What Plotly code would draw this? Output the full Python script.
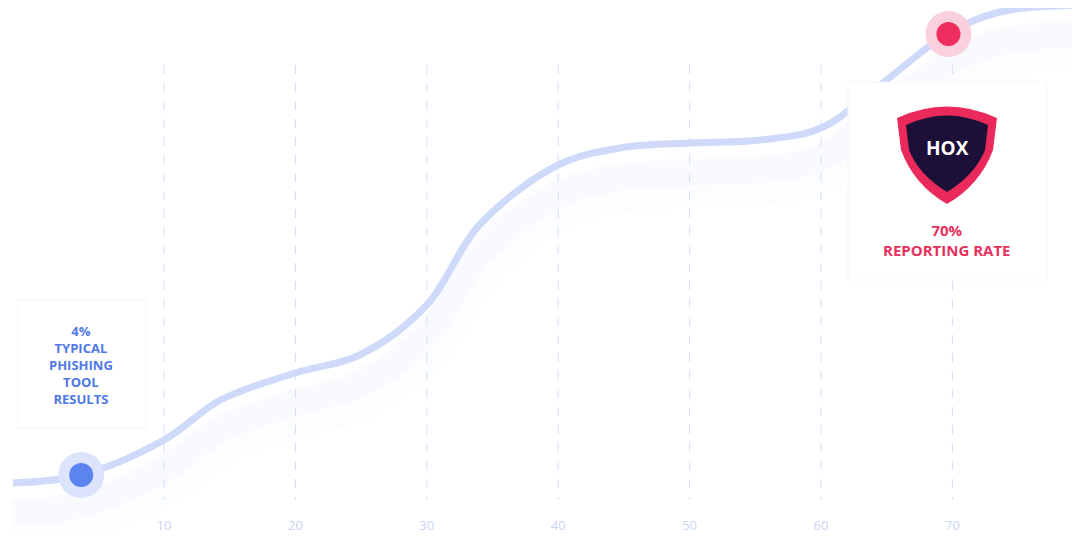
import plotly.graph_objects as go

W, H = 1080, 544
OFF = 8  # page body margin in the browser
FW, FH = W - 2 * OFF, H - 2 * OFF

# curve samples (x in chart units, y in pixels from top)
curve_x = [-1.5, 3.7, 10.0, 14.3, 20.0, 24.9, 30.0, 34.0, 40.0, 44.7, 50.0, 55.4, 60.0, 64.5, 69.7, 73.6, 79.5]
curve_y = [483, 475, 440, 400, 373, 355, 305, 225, 165, 148, 143, 140, 128, 85, 33, 12, 5]
ticks = [10, 20, 30, 40, 50, 60, 70]
low_point = (3.7, 475)
high_point = (69.7, 34)
low_label = "<b>4%<br>TYPICAL<br>PHISHING<br>TOOL<br>RESULTS</b>"
high_label = "<b>70%<br>REPORTING RATE</b>"

fig = go.Figure()

# soft shadow under the curve (two faint passes)
for w, a, dy in [(50, 0.05, 40), (26, 0.06, 30)]:
    fig.add_trace(go.Scatter(x=curve_x, y=[v + dy for v in curve_y], mode='lines',
                             line=dict(color=f'rgba(200,208,245,{a})', width=w, shape='spline'),
                             hoverinfo='skip'))
# vertical dashed guides
for t in ticks:
    fig.add_trace(go.Scatter(x=[t, t], y=[65, 500], mode='lines',
                             line=dict(color='#d3ddf8', width=1, dash='dash'), hoverinfo='skip'))
# main curve
fig.add_trace(go.Scatter(x=curve_x, y=curve_y, mode='lines',
                         line=dict(color='#cfdafb', width=7, shape='spline'), hoverinfo='skip'))


def px(x):
    return (x - OFF) / FW


def py(y):
    return 1 - (y - OFF) / FH


# cards
for x0, y0, x1, y1 in [(18, 300, 146, 428), (848, 82, 1047, 280)]:
    fig.add_shape(type='rect', xref='paper', yref='paper', x0=px(x0), x1=px(x1), y0=py(y1), y1=py(y0),
                  fillcolor='white', line=dict(color='#f3f5fc', width=1), layer='above')

# markers
fig.add_trace(go.Scatter(x=[low_point[0]], y=[low_point[1]], mode='markers',
                         marker=dict(size=46, color='#dbe4fc'), hoverinfo='skip'))
fig.add_trace(go.Scatter(x=[low_point[0]], y=[low_point[1]], mode='markers',
                         marker=dict(size=24, color='#5b84f0'), hoverinfo='skip'))
fig.add_trace(go.Scatter(x=[high_point[0]], y=[high_point[1]], mode='markers',
                         marker=dict(size=46, color='#f9d0dc'), hoverinfo='skip'))
fig.add_trace(go.Scatter(x=[high_point[0]], y=[high_point[1]], mode='markers',
                         marker=dict(size=24, color='#ec2d5e'), hoverinfo='skip'))

# shield
outer = (f"M {px(897)} {py(118)} Q {px(947)} {py(95)} {px(997)} {py(118)} L {px(993)} {py(150)} "
         f"Q {px(980)} {py(185)} {px(947)} {py(204)} Q {px(914)} {py(185)} {px(901)} {py(150)} Z")
inner = (f"M {px(906)} {py(125)} Q {px(947)} {py(106)} {px(988)} {py(125)} L {px(985)} {py(150)} "
         f"Q {px(975)} {py(175)} {px(947)} {py(192)} Q {px(919)} {py(175)} {px(909)} {py(150)} Z")
fig.add_shape(type='path', xref='paper', yref='paper', path=outer, fillcolor='#ea2a5a', line_width=0, layer='above')
fig.add_shape(type='path', xref='paper', yref='paper', path=inner, fillcolor='#1c1038', line_width=0, layer='above')

fig.add_annotation(xref='paper', yref='paper', x=px(947), y=py(148), xanchor='center', yanchor='middle',
                   text='<b>HOX</b>', showarrow=False, font=dict(family='Open Sans', size=19, color='white'))
fig.add_annotation(xref='paper', yref='paper', x=px(947), y=py(240), xanchor='center', yanchor='middle',
                   text=high_label, showarrow=False, align='center',
                   font=dict(family='Open Sans', size=15, color='#e8305c'))
fig.add_annotation(xref='paper', yref='paper', x=px(81), y=py(365), xanchor='center', yanchor='middle',
                   text=low_label, showarrow=False, align='center',
                   font=dict(family='Open Sans', size=13, color='#4f78e6'))

fig.update_layout(
    width=FW, height=FH, margin=dict(l=0, r=0, t=0, b=0),
    paper_bgcolor='white', plot_bgcolor='white', showlegend=False,
    xaxis=dict(range=[(OFF - 32.6) / 13.14, (W - OFF - 32.6) / 13.14], showgrid=False, zeroline=False,
               tickvals=ticks, ticklabelposition='inside', ticks='',
               tickfont=dict(family='Open Sans', size=13, color='#c8d5f5')),
    yaxis=dict(range=[H - OFF, OFF], visible=False),
)
fig.write_html("out.html")
